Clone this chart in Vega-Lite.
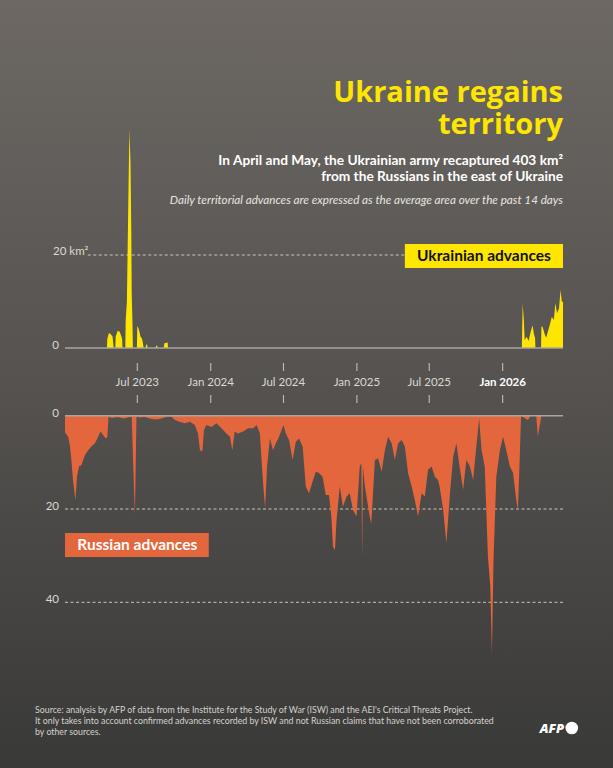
{
  "$schema": "https://vega.github.io/schema/vega-lite/v6.json",
  "width": 613,
  "height": 768,
  "autosize": {"type": "fit", "contains": "padding"},
  "padding": 0,
  "background": "#4a4846",
  "config": {"view": {"stroke": null}, "font": "Lato"},
  "datasets": {
    "ukr": [
      {"date": "2023-01-01", "km2": 0}, {"date": "2023-04-16", "km2": 0}, {"date": "2023-04-17", "km2": 2.0},
      {"date": "2023-04-21", "km2": 3.2}, {"date": "2023-04-25", "km2": 3.0}, {"date": "2023-04-30", "km2": 2.5},
      {"date": "2023-05-03", "km2": 0}, {"date": "2023-05-07", "km2": 0}, {"date": "2023-05-08", "km2": 2.5},
      {"date": "2023-05-13", "km2": 3.7}, {"date": "2023-05-18", "km2": 3.5}, {"date": "2023-05-24", "km2": 2.0},
      {"date": "2023-05-25", "km2": 0}, {"date": "2023-06-01", "km2": 0}, {"date": "2023-06-02", "km2": 6},
      {"date": "2023-06-05", "km2": 10}, {"date": "2023-06-07", "km2": 22}, {"date": "2023-06-10", "km2": 40},
      {"date": "2023-06-11", "km2": 47}, {"date": "2023-06-14", "km2": 40}, {"date": "2023-06-16", "km2": 25},
      {"date": "2023-06-17", "km2": 12}, {"date": "2023-06-19", "km2": 5}, {"date": "2023-06-20", "km2": 0},
      {"date": "2023-06-30", "km2": 0}, {"date": "2023-07-01", "km2": 4.8}, {"date": "2023-07-05", "km2": 4.0},
      {"date": "2023-07-09", "km2": 2.5}, {"date": "2023-07-13", "km2": 2.0}, {"date": "2023-07-15", "km2": 1.0},
      {"date": "2023-07-17", "km2": 0}, {"date": "2023-07-22", "km2": 0}, {"date": "2023-07-23", "km2": 0.8},
      {"date": "2023-07-26", "km2": 0.6}, {"date": "2023-07-27", "km2": 0}, {"date": "2023-08-16", "km2": 0},
      {"date": "2023-08-17", "km2": 0.5}, {"date": "2023-08-20", "km2": 0.5}, {"date": "2023-08-21", "km2": 0},
      {"date": "2023-09-05", "km2": 0}, {"date": "2023-09-07", "km2": 1.0}, {"date": "2023-09-15", "km2": 1.2},
      {"date": "2023-09-16", "km2": 0}, {"date": "2026-02-18", "km2": 0}, {"date": "2026-02-20", "km2": 9.5},
      {"date": "2026-02-23", "km2": 6.0}, {"date": "2026-02-25", "km2": 1.7}, {"date": "2026-03-02", "km2": 2.4},
      {"date": "2026-03-07", "km2": 1.5}, {"date": "2026-03-12", "km2": 3.5}, {"date": "2026-03-17", "km2": 4.9},
      {"date": "2026-03-20", "km2": 3.0}, {"date": "2026-03-23", "km2": 2.2}, {"date": "2026-03-24", "km2": 0},
      {"date": "2026-04-07", "km2": 0}, {"date": "2026-04-08", "km2": 4.7}, {"date": "2026-04-11", "km2": 4.5},
      {"date": "2026-04-16", "km2": 3.0}, {"date": "2026-04-20", "km2": 2.2}, {"date": "2026-04-24", "km2": 3.5},
      {"date": "2026-04-29", "km2": 5.0}, {"date": "2026-05-04", "km2": 6.7}, {"date": "2026-05-09", "km2": 6.0},
      {"date": "2026-05-13", "km2": 9.7}, {"date": "2026-05-17", "km2": 7.5}, {"date": "2026-05-22", "km2": 8.5},
      {"date": "2026-05-26", "km2": 12.5}, {"date": "2026-05-29", "km2": 10.0}, {"date": "2026-06-01", "km2": 9.9}
    ],
    "rus": [
      {"date": "2023-01-01", "km2": 3.5}, {"date": "2023-01-03", "km2": 3.8}, {"date": "2023-01-09", "km2": 4.5},
      {"date": "2023-01-13", "km2": 6.3}, {"date": "2023-01-17", "km2": 9.5}, {"date": "2023-01-21", "km2": 13.8},
      {"date": "2023-01-27", "km2": 18.1}, {"date": "2023-01-31", "km2": 13.1}, {"date": "2023-02-05", "km2": 10.9},
      {"date": "2023-02-11", "km2": 10.6}, {"date": "2023-02-20", "km2": 8.4}, {"date": "2023-02-28", "km2": 7.4},
      {"date": "2023-03-08", "km2": 6.6}, {"date": "2023-03-17", "km2": 5.9}, {"date": "2023-03-25", "km2": 4.5},
      {"date": "2023-03-31", "km2": 3.4}, {"date": "2023-04-06", "km2": 4.1}, {"date": "2023-04-13", "km2": 4.9},
      {"date": "2023-04-17", "km2": 4.5}, {"date": "2023-04-20", "km2": 0.2}, {"date": "2023-04-28", "km2": 0.5},
      {"date": "2023-05-13", "km2": 0.3}, {"date": "2023-05-28", "km2": 0.6}, {"date": "2023-06-12", "km2": 0.3},
      {"date": "2023-06-17", "km2": 0.2}, {"date": "2023-06-21", "km2": 10.9}, {"date": "2023-06-25", "km2": 21.3},
      {"date": "2023-06-29", "km2": 0.2}, {"date": "2023-07-07", "km2": 0.4}, {"date": "2023-07-20", "km2": 0.3},
      {"date": "2023-08-01", "km2": 0.6}, {"date": "2023-08-14", "km2": 0.8}, {"date": "2023-08-26", "km2": 0.7},
      {"date": "2023-09-03", "km2": 0.5}, {"date": "2023-09-13", "km2": 0.2}, {"date": "2023-09-25", "km2": 0.2},
      {"date": "2023-10-03", "km2": 0.9}, {"date": "2023-10-15", "km2": 1.3}, {"date": "2023-10-28", "km2": 1.6},
      {"date": "2023-11-10", "km2": 1.3}, {"date": "2023-11-22", "km2": 2.0}, {"date": "2023-11-30", "km2": 3.8},
      {"date": "2023-12-05", "km2": 7.4}, {"date": "2023-12-11", "km2": 7.7}, {"date": "2023-12-15", "km2": 3.1},
      {"date": "2023-12-21", "km2": 2.0}, {"date": "2024-01-03", "km2": 2.4}, {"date": "2024-01-15", "km2": 1.6},
      {"date": "2024-01-28", "km2": 2.7}, {"date": "2024-02-09", "km2": 3.8}, {"date": "2024-02-18", "km2": 4.5},
      {"date": "2024-02-24", "km2": 7.4}, {"date": "2024-03-01", "km2": 3.4}, {"date": "2024-03-09", "km2": 3.8},
      {"date": "2024-03-22", "km2": 3.4}, {"date": "2024-04-03", "km2": 2.7}, {"date": "2024-04-16", "km2": 2.7},
      {"date": "2024-04-25", "km2": 2.0}, {"date": "2024-05-03", "km2": 3.8}, {"date": "2024-05-11", "km2": 14.5},
      {"date": "2024-05-16", "km2": 19.8}, {"date": "2024-05-21", "km2": 10.9}, {"date": "2024-05-28", "km2": 4.9},
      {"date": "2024-06-05", "km2": 7.4}, {"date": "2024-06-12", "km2": 5.9}, {"date": "2024-06-20", "km2": 4.5},
      {"date": "2024-07-01", "km2": 2.0}, {"date": "2024-07-07", "km2": 3.8}, {"date": "2024-07-15", "km2": 5.2},
      {"date": "2024-07-24", "km2": 9.5}, {"date": "2024-08-01", "km2": 5.6}, {"date": "2024-08-09", "km2": 4.9},
      {"date": "2024-08-18", "km2": 6.6}, {"date": "2024-08-26", "km2": 15.2}, {"date": "2024-09-03", "km2": 16.6},
      {"date": "2024-09-12", "km2": 14.1}, {"date": "2024-09-20", "km2": 12.0}, {"date": "2024-09-28", "km2": 12.3},
      {"date": "2024-10-07", "km2": 13.1}, {"date": "2024-10-15", "km2": 17.0}, {"date": "2024-10-23", "km2": 17.0},
      {"date": "2024-10-29", "km2": 21.6}, {"date": "2024-11-02", "km2": 28.1}, {"date": "2024-11-07", "km2": 28.8},
      {"date": "2024-11-11", "km2": 22.3}, {"date": "2024-11-19", "km2": 15.2}, {"date": "2024-11-27", "km2": 19.5},
      {"date": "2024-12-06", "km2": 17.3}, {"date": "2024-12-14", "km2": 16.6}, {"date": "2024-12-22", "km2": 20.2},
      {"date": "2024-12-31", "km2": 21.6}, {"date": "2025-01-08", "km2": 10.9}, {"date": "2025-01-12", "km2": 10.2},
      {"date": "2025-01-14", "km2": 30.5}, {"date": "2025-01-16", "km2": 10.9}, {"date": "2025-01-21", "km2": 15.2},
      {"date": "2025-02-02", "km2": 21.6}, {"date": "2025-02-06", "km2": 23.1}, {"date": "2025-02-15", "km2": 9.5},
      {"date": "2025-02-23", "km2": 9.1}, {"date": "2025-03-04", "km2": 12.0}, {"date": "2025-03-12", "km2": 7.4},
      {"date": "2025-03-20", "km2": 4.5}, {"date": "2025-03-29", "km2": 5.9}, {"date": "2025-04-06", "km2": 9.5},
      {"date": "2025-04-14", "km2": 5.9}, {"date": "2025-04-23", "km2": 5.2}, {"date": "2025-05-01", "km2": 6.6},
      {"date": "2025-05-09", "km2": 12.3}, {"date": "2025-05-18", "km2": 15.2}, {"date": "2025-05-26", "km2": 18.1},
      {"date": "2025-06-03", "km2": 21.6}, {"date": "2025-06-12", "km2": 16.6}, {"date": "2025-06-20", "km2": 17.3},
      {"date": "2025-06-28", "km2": 11.6}, {"date": "2025-07-07", "km2": 10.9}, {"date": "2025-07-15", "km2": 13.1},
      {"date": "2025-07-23", "km2": 13.8}, {"date": "2025-07-27", "km2": 15.2}, {"date": "2025-08-05", "km2": 20.2},
      {"date": "2025-08-13", "km2": 27.3}, {"date": "2025-08-22", "km2": 16.6}, {"date": "2025-08-30", "km2": 8.8},
      {"date": "2025-09-07", "km2": 5.9}, {"date": "2025-09-15", "km2": 10.9}, {"date": "2025-09-24", "km2": 15.9},
      {"date": "2025-10-02", "km2": 9.5}, {"date": "2025-10-11", "km2": 10.9}, {"date": "2025-10-19", "km2": 13.8},
      {"date": "2025-10-27", "km2": 6.6}, {"date": "2025-11-03", "km2": 0.6}, {"date": "2025-11-09", "km2": 7.4},
      {"date": "2025-11-17", "km2": 10.9}, {"date": "2025-11-25", "km2": 30.2}, {"date": "2025-12-01", "km2": 36.6},
      {"date": "2025-12-05", "km2": 51.2}, {"date": "2025-12-09", "km2": 30.9}, {"date": "2025-12-16", "km2": 13.1},
      {"date": "2025-12-25", "km2": 7.4}, {"date": "2026-01-02", "km2": 4.5}, {"date": "2026-01-10", "km2": 7.4},
      {"date": "2026-01-19", "km2": 10.9}, {"date": "2026-01-27", "km2": 12.3}, {"date": "2026-02-04", "km2": 18.1},
      {"date": "2026-02-08", "km2": 20.2}, {"date": "2026-02-12", "km2": 10.9}, {"date": "2026-02-16", "km2": 0},
      {"date": "2026-03-05", "km2": 0.9}, {"date": "2026-03-12", "km2": 0}, {"date": "2026-03-26", "km2": 0},
      {"date": "2026-03-30", "km2": 4.5}, {"date": "2026-04-03", "km2": 2.4}, {"date": "2026-04-08", "km2": 0},
      {"date": "2026-06-01", "km2": 0}
    ],
    "ticks": [
      {"date": "2023-07-01"}, {"date": "2024-01-01"}, {"date": "2024-07-01"},
      {"date": "2025-01-01"}, {"date": "2025-07-01"}, {"date": "2026-01-01"}
    ],
    "rusgrid": [{"km2": 20}, {"km2": 40}],
    "ruslabels": [{"km2": 0}, {"km2": 20}, {"km2": 40}]
  },
  "resolve": {"scale": {"y": "independent"}},
  "layer": [
    {
      "data": {"values": [{}]},
      "mark": {"type": "rect", "fill": {"gradient": "linear", "x1": 0, "y1": 0, "x2": 0, "y2": 1,
        "stops": [{"offset": 0, "color": "#6d6864"}, {"offset": 0.5, "color": "#55524f"}, {"offset": 1, "color": "#393938"}]}},
      "encoding": {"x": {"value": 0}, "x2": {"value": "width"}, "y": {"value": 0}, "y2": {"value": "height"}}
    },
    {
      "data": {"values": [{}]},
      "mark": {"type": "rule", "color": "#c9c5bf", "strokeWidth": 1, "strokeDash": [3, 2.5]},
      "encoding": {
        "x": {"datum": {"year": 2023, "month": 2, "date": 27}, "type": "temporal", "axis": null,
          "scale": {"type": "time", "domain": [{"year": 2023, "month": 1, "date": 1}, {"year": 2026, "month": 6, "date": 1}], "range": [65, 563]}},
        "x2": {"datum": {"year": 2026, "month": 6, "date": 1}},
        "y": {"datum": 20, "type": "quantitative", "axis": null, "scale": {"domain": [0, 20], "range": [348, 255], "nice": false, "zero": false}}
      }
    },
    {
      "data": {"name": "rusgrid"},
      "mark": {"type": "rule", "color": "#c9c5bf", "strokeWidth": 1, "strokeDash": [3, 2.5]},
      "encoding": {
        "x": {"datum": {"year": 2023, "month": 1, "date": 1}, "type": "temporal", "axis": null,
          "scale": {"type": "time", "domain": [{"year": 2023, "month": 1, "date": 1}, {"year": 2026, "month": 6, "date": 1}], "range": [65, 563]}},
        "x2": {"datum": {"year": 2026, "month": 6, "date": 1}},
        "y": {"field": "km2", "type": "quantitative", "axis": null, "scale": {"domain": [0, 20], "range": [415.7, 509], "nice": false, "zero": false}}
      }
    },
    {
      "data": {"name": "ukr"},
      "mark": {"type": "area", "color": "#FFE600", "interpolate": "linear"},
      "encoding": {
        "x": {"field": "date", "type": "temporal", "axis": null,
          "scale": {"type": "time", "domain": [{"year": 2023, "month": 1, "date": 1}, {"year": 2026, "month": 6, "date": 1}], "range": [65, 563]}},
        "y": {"field": "km2", "type": "quantitative", "axis": null, "scale": {"domain": [0, 20], "range": [348, 255], "nice": false, "zero": false}},
        "y2": {"datum": 0}
      }
    },
    {
      "data": {"name": "rus"},
      "mark": {"type": "area", "color": "#E4663D", "interpolate": "linear"},
      "encoding": {
        "x": {"field": "date", "type": "temporal", "axis": null,
          "scale": {"type": "time", "domain": [{"year": 2023, "month": 1, "date": 1}, {"year": 2026, "month": 6, "date": 1}], "range": [65, 563]}},
        "y": {"field": "km2", "type": "quantitative", "axis": null, "scale": {"domain": [0, 20], "range": [415.7, 509], "nice": false, "zero": false}},
        "y2": {"datum": 0}
      }
    },
    {
      "data": {"values": [{}]},
      "mark": {"type": "rule", "color": "#a9a59f", "strokeWidth": 1.5},
      "encoding": {
        "x": {"datum": {"year": 2023, "month": 1, "date": 1}, "type": "temporal", "axis": null,
          "scale": {"type": "time", "domain": [{"year": 2023, "month": 1, "date": 1}, {"year": 2026, "month": 6, "date": 1}], "range": [65, 563]}},
        "x2": {"datum": {"year": 2026, "month": 6, "date": 1}},
        "y": {"datum": 0, "type": "quantitative", "axis": null, "scale": {"domain": [0, 20], "range": [348, 255], "nice": false, "zero": false}}
      }
    },
    {
      "data": {"values": [{}]},
      "mark": {"type": "rule", "color": "#a9a59f", "strokeWidth": 1.5},
      "encoding": {
        "x": {"datum": {"year": 2023, "month": 1, "date": 1}, "type": "temporal", "axis": null,
          "scale": {"type": "time", "domain": [{"year": 2023, "month": 1, "date": 1}, {"year": 2026, "month": 6, "date": 1}], "range": [65, 563]}},
        "x2": {"datum": {"year": 2026, "month": 6, "date": 1}},
        "y": {"datum": 0, "type": "quantitative", "axis": null, "scale": {"domain": [0, 20], "range": [415.7, 509], "nice": false, "zero": false}}
      }
    },
    {
      "data": {"name": "ticks"},
      "mark": {"type": "rule", "color": "#c9c5bf", "strokeWidth": 1},
      "encoding": {
        "x": {"field": "date", "type": "temporal", "axis": null,
          "scale": {"type": "time", "domain": [{"year": 2023, "month": 1, "date": 1}, {"year": 2026, "month": 6, "date": 1}], "range": [65, 563]}},
        "y": {"datum": -3.23, "type": "quantitative", "axis": null, "scale": {"domain": [0, 20], "range": [348, 255], "nice": false, "zero": false}},
        "y2": {"datum": -4.95}
      }
    },
    {
      "data": {"name": "ticks"},
      "mark": {"type": "rule", "color": "#c9c5bf", "strokeWidth": 1},
      "encoding": {
        "x": {"field": "date", "type": "temporal", "axis": null,
          "scale": {"type": "time", "domain": [{"year": 2023, "month": 1, "date": 1}, {"year": 2026, "month": 6, "date": 1}], "range": [65, 563]}},
        "y": {"datum": -4.44, "type": "quantitative", "axis": null, "scale": {"domain": [0, 20], "range": [415.7, 509], "nice": false, "zero": false}},
        "y2": {"datum": -2.72}
      }
    },
    {
      "data": {"name": "ticks"},
      "transform": [{"filter": "utcyear(toDate(datum.date)) < 2026"}],
      "mark": {"type": "text", "align": "center", "baseline": "middle", "font": "Lato", "fontSize": 11.5, "color": "#dcd8d2"},
      "encoding": {
        "text": {"field": "date", "type": "temporal", "timeUnit": "utcyearmonth", "format": "%b %Y"},
        "x": {"field": "date", "type": "temporal", "axis": null,
          "scale": {"type": "time", "domain": [{"year": 2023, "month": 1, "date": 1}, {"year": 2026, "month": 6, "date": 1}], "range": [65, 563]}},
        "y": {"datum": -7.63, "type": "quantitative", "axis": null, "scale": {"domain": [0, 20], "range": [348, 255], "nice": false, "zero": false}}
      }
    },
    {
      "data": {"name": "ticks"},
      "transform": [{"filter": "utcyear(toDate(datum.date)) >= 2026"}],
      "mark": {"type": "text", "align": "center", "baseline": "middle", "font": "Lato", "fontWeight": "bold", "fontSize": 11.5, "color": "#ffffff"},
      "encoding": {
        "text": {"field": "date", "type": "temporal", "timeUnit": "utcyearmonth", "format": "%b %Y"},
        "x": {"field": "date", "type": "temporal", "axis": null,
          "scale": {"type": "time", "domain": [{"year": 2023, "month": 1, "date": 1}, {"year": 2026, "month": 6, "date": 1}], "range": [65, 563]}},
        "y": {"datum": -7.63, "type": "quantitative", "axis": null, "scale": {"domain": [0, 20], "range": [348, 255], "nice": false, "zero": false}}
      }
    },
    {
      "data": {"values": [{}]},
      "mark": {"type": "text", "text": "20 km²", "align": "left", "baseline": "middle", "dx": -12, "dy": -3, "font": "Lato", "fontSize": 11.5, "color": "#dcd8d2"},
      "encoding": {
        "x": {"datum": {"year": 2023, "month": 1, "date": 1}, "type": "temporal", "axis": null,
          "scale": {"type": "time", "domain": [{"year": 2023, "month": 1, "date": 1}, {"year": 2026, "month": 6, "date": 1}], "range": [65, 563]}},
        "y": {"datum": 20, "type": "quantitative", "axis": null, "scale": {"domain": [0, 20], "range": [348, 255], "nice": false, "zero": false}}
      }
    },
    {
      "data": {"values": [{}]},
      "mark": {"type": "text", "text": "0", "align": "right", "baseline": "middle", "dx": -6, "dy": -2, "font": "Lato", "fontSize": 11.5, "color": "#dcd8d2"},
      "encoding": {
        "x": {"datum": {"year": 2023, "month": 1, "date": 1}, "type": "temporal", "axis": null,
          "scale": {"type": "time", "domain": [{"year": 2023, "month": 1, "date": 1}, {"year": 2026, "month": 6, "date": 1}], "range": [65, 563]}},
        "y": {"datum": 0, "type": "quantitative", "axis": null, "scale": {"domain": [0, 20], "range": [348, 255], "nice": false, "zero": false}}
      }
    },
    {
      "data": {"name": "ruslabels"},
      "mark": {"type": "text", "align": "right", "baseline": "middle", "dx": -6, "dy": -2, "font": "Lato", "fontSize": 11.5, "color": "#dcd8d2"},
      "encoding": {
        "text": {"field": "km2", "type": "quantitative"},
        "x": {"datum": {"year": 2023, "month": 1, "date": 1}, "type": "temporal", "axis": null,
          "scale": {"type": "time", "domain": [{"year": 2023, "month": 1, "date": 1}, {"year": 2026, "month": 6, "date": 1}], "range": [65, 563]}},
        "y": {"field": "km2", "type": "quantitative", "axis": null, "scale": {"domain": [0, 20], "range": [415.7, 509], "nice": false, "zero": false}}
      }
    },
    {
      "data": {"values": [{}]},
      "mark": {"type": "text", "text": "Ukraine regains", "align": "right", "baseline": "alphabetic",
        "font": "Open Sans", "fontWeight": "bold", "fontSize": 29, "color": "#FFE600"},
      "encoding": {
        "x": {"datum": {"year": 2026, "month": 6, "date": 1}, "type": "temporal", "axis": null,
          "scale": {"type": "time", "domain": [{"year": 2023, "month": 1, "date": 1}, {"year": 2026, "month": 6, "date": 1}], "range": [65, 563]}},
        "y": {"datum": 52.9, "type": "quantitative", "axis": null, "scale": {"domain": [0, 20], "range": [348, 255], "nice": false, "zero": false}}
      }
    },
    {
      "data": {"values": [{}]},
      "mark": {"type": "text", "text": "territory", "align": "right", "baseline": "alphabetic",
        "font": "Open Sans", "fontWeight": "bold", "fontSize": 29, "color": "#FFE600"},
      "encoding": {
        "x": {"datum": {"year": 2026, "month": 6, "date": 1}, "type": "temporal", "axis": null,
          "scale": {"type": "time", "domain": [{"year": 2023, "month": 1, "date": 1}, {"year": 2026, "month": 6, "date": 1}], "range": [65, 563]}},
        "y": {"datum": 46.02, "type": "quantitative", "axis": null, "scale": {"domain": [0, 20], "range": [348, 255], "nice": false, "zero": false}}
      }
    },
    {
      "data": {"values": [{}]},
      "mark": {"type": "text", "text": ["In April and May, the Ukrainian army recaptured 403 km²", "from the Russians in the east of Ukraine"], "lineHeight": 16,
        "align": "right", "baseline": "alphabetic", "font": "Lato", "fontWeight": "bold", "fontSize": 13.7, "color": "#ffffff"},
      "encoding": {
        "x": {"datum": {"year": 2026, "month": 6, "date": 1}, "type": "temporal", "axis": null,
          "scale": {"type": "time", "domain": [{"year": 2023, "month": 1, "date": 1}, {"year": 2026, "month": 6, "date": 1}], "range": [65, 563]}},
        "y": {"datum": 39.35, "type": "quantitative", "axis": null, "scale": {"domain": [0, 20], "range": [348, 255], "nice": false, "zero": false}}
      }
    },
    {
      "data": {"values": [{}]},
      "mark": {"type": "text", "text": "Daily territorial advances are expressed as the average area over the past 14 days",
        "align": "right", "baseline": "alphabetic", "font": "Lato", "fontStyle": "italic", "fontSize": 11.7, "color": "#e8e5e1"},
      "encoding": {
        "x": {"datum": {"year": 2026, "month": 6, "date": 1}, "type": "temporal", "axis": null,
          "scale": {"type": "time", "domain": [{"year": 2023, "month": 1, "date": 1}, {"year": 2026, "month": 6, "date": 1}], "range": [65, 563]}},
        "y": {"datum": 30.97, "type": "quantitative", "axis": null, "scale": {"domain": [0, 20], "range": [348, 255], "nice": false, "zero": false}}
      }
    },
    {
      "data": {"values": [{}]},
      "mark": {"type": "rect", "color": "#FFE600"},
      "encoding": {
        "x": {"datum": {"year": 2025, "month": 5, "date": 1}, "type": "temporal", "axis": null,
          "scale": {"type": "time", "domain": [{"year": 2023, "month": 1, "date": 1}, {"year": 2026, "month": 6, "date": 1}], "range": [65, 563]}},
        "x2": {"datum": {"year": 2026, "month": 6, "date": 1}},
        "y": {"datum": 22.37, "type": "quantitative", "axis": null, "scale": {"domain": [0, 20], "range": [348, 255], "nice": false, "zero": false}},
        "y2": {"datum": 17.2}
      }
    },
    {
      "data": {"values": [{}]},
      "mark": {"type": "text", "text": "Ukrainian advances", "align": "center", "baseline": "middle", "font": "Lato", "fontWeight": "bold", "fontSize": 15.5, "color": "#111111"},
      "encoding": {
        "x": {"datum": {"year": 2025, "month": 11, "date": 15}, "type": "temporal", "axis": null,
          "scale": {"type": "time", "domain": [{"year": 2023, "month": 1, "date": 1}, {"year": 2026, "month": 6, "date": 1}], "range": [65, 563]}},
        "y": {"datum": 19.78, "type": "quantitative", "axis": null, "scale": {"domain": [0, 20], "range": [348, 255], "nice": false, "zero": false}}
      }
    },
    {
      "data": {"values": [{}]},
      "mark": {"type": "rect", "color": "#E4663D"},
      "encoding": {
        "x": {"datum": {"year": 2023, "month": 1, "date": 1}, "type": "temporal", "axis": null,
          "scale": {"type": "time", "domain": [{"year": 2023, "month": 1, "date": 1}, {"year": 2026, "month": 6, "date": 1}], "range": [65, 563]}},
        "x2": {"datum": {"year": 2023, "month": 12, "date": 27}},
        "y": {"datum": 25.14, "type": "quantitative", "axis": null, "scale": {"domain": [0, 20], "range": [415.7, 509], "nice": false, "zero": false}},
        "y2": {"datum": 30.29}
      }
    },
    {
      "data": {"values": [{}]},
      "mark": {"type": "text", "text": "Russian advances", "align": "center", "baseline": "middle", "font": "Lato", "fontWeight": "bold", "fontSize": 15.5, "color": "#ffffff"},
      "encoding": {
        "x": {"datum": {"year": 2023, "month": 7, "date": 1}, "type": "temporal", "axis": null,
          "scale": {"type": "time", "domain": [{"year": 2023, "month": 1, "date": 1}, {"year": 2026, "month": 6, "date": 1}], "range": [65, 563]}},
        "y": {"datum": 27.72, "type": "quantitative", "axis": null, "scale": {"domain": [0, 20], "range": [415.7, 509], "nice": false, "zero": false}}
      }
    },
    {
      "data": {"values": [{}]},
      "mark": {"type": "text", "text": ["Source: analysis by AFP of data from the Institute for the Study of War (ISW) and the AEI's Critical Threats Project.",
        "It only takes into account confirmed advances recorded by ISW and not Russian claims that have not been corroborated", "by other sources."],
        "lineHeight": 11, "align": "left", "baseline": "alphabetic", "dx": -30, "font": "Lato", "fontSize": 8.8, "color": "#d6d2ce"},
      "encoding": {
        "x": {"datum": {"year": 2023, "month": 1, "date": 1}, "type": "temporal", "axis": null,
          "scale": {"type": "time", "domain": [{"year": 2023, "month": 1, "date": 1}, {"year": 2026, "month": 6, "date": 1}], "range": [65, 563]}},
        "y": {"datum": 63.73, "type": "quantitative", "axis": null, "scale": {"domain": [0, 20], "range": [415.7, 509], "nice": false, "zero": false}}
      }
    },
    {
      "data": {"values": [{}]},
      "mark": {"type": "text", "text": "AFP", "align": "right", "baseline": "alphabetic", "dx": 1, "font": "Open Sans", "fontWeight": 800, "fontStyle": "italic", "fontSize": 13, "color": "#ffffff"},
      "encoding": {
        "x": {"datum": {"year": 2026, "month": 6, "date": 1}, "type": "temporal", "axis": null,
          "scale": {"type": "time", "domain": [{"year": 2023, "month": 1, "date": 1}, {"year": 2026, "month": 6, "date": 1}], "range": [65, 563]}},
        "y": {"datum": 68.0, "type": "quantitative", "axis": null, "scale": {"domain": [0, 20], "range": [415.7, 509], "nice": false, "zero": false}}
      }
    },
    {
      "data": {"values": [{}]},
      "mark": {"type": "point", "shape": "circle", "filled": true, "size": 160, "color": "#ffffff", "opacity": 1},
      "encoding": {
        "x": {"datum": {"year": 2026, "month": 6, "date": 23}, "type": "temporal", "axis": null,
          "scale": {"type": "time", "domain": [{"year": 2023, "month": 1, "date": 1}, {"year": 2026, "month": 6, "date": 1}], "range": [65, 563]}},
        "y": {"datum": 66.95, "type": "quantitative", "axis": null, "scale": {"domain": [0, 20], "range": [415.7, 509], "nice": false, "zero": false}}
      }
    }
  ]
}
